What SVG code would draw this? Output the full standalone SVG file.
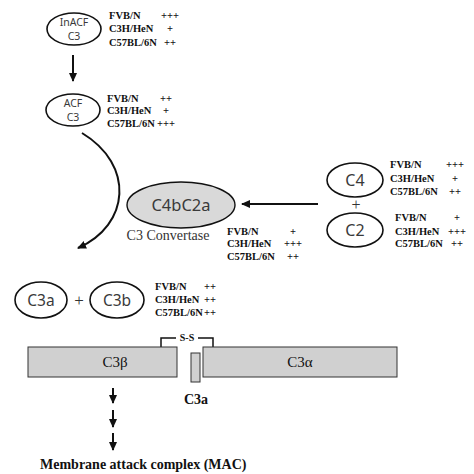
<svg xmlns="http://www.w3.org/2000/svg" width="474" height="474" viewBox="0 0 474 474">
<defs>
<style>
.el{fill:#fff;stroke:#111;stroke-width:1.6}
.gr{fill:#d9d9d9;stroke:#111;stroke-width:1.4}
.bar{fill:#d0d0d0;stroke:#333;stroke-width:1}
.nt{font-family:"Noto Sans","DejaVu Sans",sans-serif;fill:#3a3a3a;text-anchor:middle}
.sf{font-family:"Liberation Serif","Times New Roman",serif}
.lb{font-family:"Liberation Serif","Times New Roman",serif;font-weight:bold;font-size:10.5px;fill:#111}
.pl{font-family:"Liberation Serif","Times New Roman",serif;font-weight:bold;font-size:10.5px;fill:#111;text-anchor:middle}
.ln{fill:none;stroke:#111;stroke-width:2}
</style>
<marker id="ah" markerWidth="10" markerHeight="10" refX="8" refY="5" orient="auto" markerUnits="userSpaceOnUse">
<path d="M0,1 L9,5 L0,9 Z" fill="#111"/>
</marker>
</defs>
<rect width="474" height="474" fill="#fff"/>

<g id="connectors">
<line class="ln" x1="73" y1="55" x2="73" y2="81" marker-end="url(#ah)"/>
<path class="ln" d="M82,133 C135,165 130,225 78,248" marker-end="url(#ah)"/>
<line class="ln" x1="318" y1="204" x2="242" y2="204" marker-end="url(#ah)"/>
<line class="ln" x1="113" y1="388" x2="113" y2="403" marker-end="url(#ah)"/>
<line class="ln" x1="113" y1="410" x2="113" y2="427" marker-end="url(#ah)"/>
<line class="ln" x1="113" y1="433" x2="113" y2="450" marker-end="url(#ah)"/>
</g>

<g id="inacf">
<ellipse class="el" cx="74" cy="29" rx="27" ry="16"/>
<text class="nt" x="74" y="26" font-size="10.5">InACF</text>
<text class="nt" x="74" y="40" font-size="10.5">C3</text>
<text class="lb" x="109" y="19">FVB/N</text><text class="pl" x="170" y="19">+++</text>
<text class="lb" x="109" y="32">C3H/HeN</text><text class="pl" x="170" y="32">+</text>
<text class="lb" x="109" y="46">C57BL/6N</text><text class="pl" x="170" y="46">++</text>
</g>

<g id="acf">
<ellipse class="el" cx="73" cy="110" rx="27" ry="16"/>
<text class="nt" x="73" y="107" font-size="10.5">ACF</text>
<text class="nt" x="73" y="121" font-size="10.5">C3</text>
<text class="lb" x="107" y="102">FVB/N</text><text class="pl" x="166" y="102">++</text>
<text class="lb" x="107" y="114">C3H/HeN</text><text class="pl" x="166" y="114">+</text>
<text class="lb" x="107" y="127">C57BL/6N</text><text class="pl" x="166" y="127">+++</text>
</g>

<g id="c4bc2a">
<ellipse class="gr" cx="181" cy="205" rx="54" ry="23"/>
<text class="nt" x="181" y="211" font-size="16.5">C4bC2a</text>
<text class="sf" x="168" y="240" font-size="14" fill="#333" text-anchor="middle">C3 Convertase</text>
<text class="lb" x="227" y="235">FVB/N</text><text class="pl" x="293" y="235">+</text>
<text class="lb" x="227" y="247">C3H/HeN</text><text class="pl" x="293" y="247">+++</text>
<text class="lb" x="227" y="260">C57BL/6N</text><text class="pl" x="293" y="260">++</text>
</g>

<g id="c4">
<ellipse class="el" cx="355" cy="180" rx="28" ry="17"/>
<text class="nt" x="355" y="186" font-size="16">C4</text>
<text class="lb" x="390" y="168">FVB/N</text><text class="pl" x="455" y="168">+++</text>
<text class="lb" x="390" y="182">C3H/HeN</text><text class="pl" x="455" y="182">+</text>
<text class="lb" x="390" y="195">C57BL/6N</text><text class="pl" x="455" y="195">++</text>
</g>
<text class="sf" x="356" y="210" font-size="16" fill="#333" text-anchor="middle">+</text>

<g id="c2">
<ellipse class="el" cx="355" cy="230" rx="28" ry="17"/>
<text class="nt" x="355" y="236" font-size="16">C2</text>
<text class="lb" x="395" y="221">FVB/N</text><text class="pl" x="457" y="221">+</text>
<text class="lb" x="395" y="235">C3H/HeN</text><text class="pl" x="457" y="235">+++</text>
<text class="lb" x="395" y="247">C57BL/6N</text><text class="pl" x="457" y="247">++</text>
</g>

<g id="c3a">
<ellipse class="el" cx="41" cy="300" rx="26" ry="18"/>
<text class="nt" x="41" y="306" font-size="15.5">C3a</text>
</g>
<text class="sf" x="79" y="306" font-size="17" fill="#333" text-anchor="middle">+</text>
<g id="c3b">
<ellipse class="el" cx="117" cy="300" rx="27" ry="18"/>
<text class="nt" x="117" y="306" font-size="15.5">C3b</text>
<text class="lb" x="155" y="290">FVB/N</text><text class="pl" x="210" y="290">++</text>
<text class="lb" x="155" y="303">C3H/HeN</text><text class="pl" x="210" y="303">++</text>
<text class="lb" x="155" y="316">C57BL/6N</text><text class="pl" x="210" y="316">++</text>
</g>

<g id="c3-chain">
<path d="M161,347 V338 H176 M198,338 H213 V347" fill="none" stroke="#111" stroke-width="1.5"/>
<text class="sf" x="187" y="341" font-weight="bold" font-size="10" fill="#111" text-anchor="middle">S-S</text>
<rect class="bar" x="28" y="347" width="149" height="30"/>
<text class="sf" x="115" y="367" font-size="15" fill="#111" text-anchor="middle">C3β</text>
<rect class="bar" x="203" y="347" width="194" height="30"/>
<text class="sf" x="300" y="367" font-size="15" fill="#111" text-anchor="middle">C3α</text>
<rect class="bar" x="191" y="353" width="9" height="29"/>
<text class="sf" x="196" y="404" font-weight="bold" font-size="14" fill="#111" text-anchor="middle">C3a</text>
</g>

<text class="sf" x="40" y="469" font-weight="bold" font-size="14" fill="#111">Membrane attack complex (MAC)</text>
</svg>
